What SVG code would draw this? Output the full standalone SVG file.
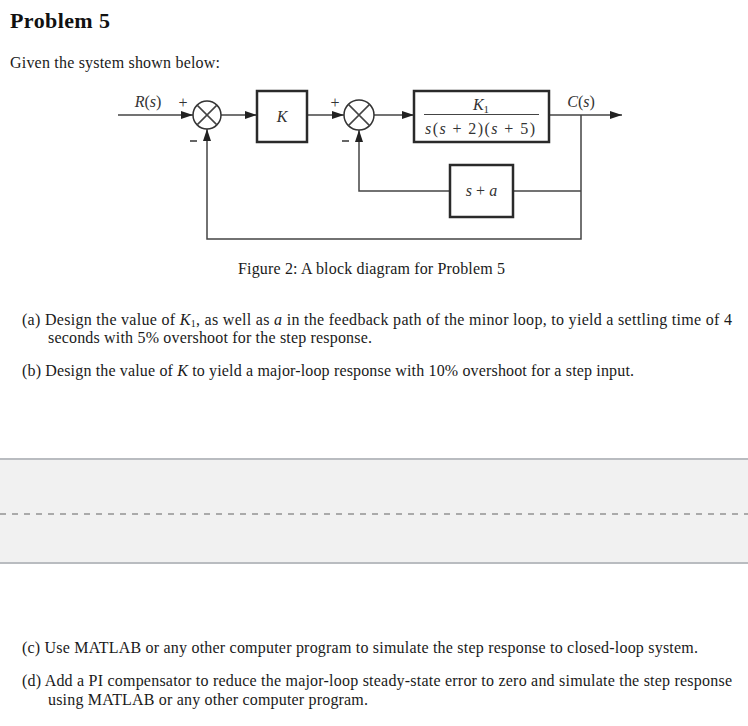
<svg xmlns="http://www.w3.org/2000/svg" width="748" height="726" viewBox="0 0 748 726">
<style>
.t{font-family:"Liberation Serif","Times New Roman",serif;font-size:16px;fill:#1a1a1a}
.d{font-family:"Liberation Serif","Times New Roman",serif;font-size:16px;fill:#333}
.i{font-style:italic}
.box{fill:#fff;stroke:#2a2a2a;stroke-width:2.5}
.sj{fill:#fff;stroke:#333;stroke-width:1.5}
.w{fill:none;stroke:#444;stroke-width:1.5}
.sg{stroke:#333;stroke-width:1.5}
</style>
<defs>
<marker id="ah" markerUnits="userSpaceOnUse" markerWidth="12" markerHeight="8" refX="12" refY="4" orient="auto">
<path d="M0,0 L12,4 L0,8 Z" fill="#222"/>
</marker>
</defs>
<rect width="748" height="726" fill="#fff"/>
<text x="10" y="28" style="font-family:'Liberation Serif',serif;font-size:22px;font-weight:bold;fill:#111" textLength="100">Problem 5</text>
<text class="t" x="10" y="68" textLength="210">Given the system shown below:</text>

<g id="connectors">
<line class="w" x1="118" y1="115" x2="193" y2="115" marker-end="url(#ah)"/>
<line class="w" x1="221" y1="115" x2="257" y2="115" marker-end="url(#ah)"/>
<line class="w" x1="307" y1="115" x2="344" y2="115" marker-end="url(#ah)"/>
<line class="w" x1="374" y1="115" x2="414" y2="115" marker-end="url(#ah)"/>
<line class="w" x1="549" y1="115" x2="622" y2="115" marker-end="url(#ah)"/>
<path class="w" d="M581,115 V239 H207 V129" marker-end="url(#ah)"/>
<path class="w" d="M450,191 H359 V130" marker-end="url(#ah)"/>
<path class="w" d="M513,191 H581"/>
</g>

<g id="sum1">
<circle class="sj" cx="207" cy="115" r="14"/>
<path class="w" d="M197.1,105.1 L216.9,124.9 M216.9,105.1 L197.1,124.9"/>
</g>
<g id="kblock">
<rect class="box" x="257" y="91" width="50" height="51"/>
<text class="d i" x="282" y="122" text-anchor="middle" font-size="17">K</text>
</g>
<g id="sum2">
<circle class="sj" cx="359" cy="115" r="15"/>
<path class="w" d="M348.4,104.4 L369.6,125.6 M369.6,104.4 L348.4,125.6"/>
</g>
<g id="gblock">
<rect class="box" x="414" y="91" width="135" height="51"/>
<line x1="424" y1="114.5" x2="539" y2="114.5" stroke="#444" stroke-width="1.2"/>
<text class="d" x="481" y="110" text-anchor="middle" font-size="17"><tspan class="i">K</tspan><tspan font-size="11" dy="3">1</tspan></text>
<text class="d" x="480" y="134" text-anchor="middle" font-size="17" textLength="110"><tspan class="i">s</tspan>(<tspan class="i">s</tspan> + 2)(<tspan class="i">s</tspan> + 5)</text>
</g>
<g id="hblock">
<rect class="box" x="450" y="165" width="63" height="52"/>
<text class="d" x="481.5" y="196" text-anchor="middle" font-size="17"><tspan class="i">s</tspan> + <tspan class="i">a</tspan></text>
</g>

<text class="d" x="148" y="107" text-anchor="middle" font-size="17"><tspan class="i">R</tspan>(<tspan class="i">s</tspan>)</text>
<text class="d" x="581" y="107" text-anchor="middle" font-size="17"><tspan class="i">C</tspan>(<tspan class="i">s</tspan>)</text>
<text class="d" x="183" y="108" text-anchor="middle" font-size="19">+</text>
<text class="d" x="335" y="108" text-anchor="middle" font-size="19">+</text>
<line class="sg" x1="190" y1="141" x2="197" y2="141"/>
<line class="sg" x1="342" y1="141" x2="349" y2="141"/>

<text class="t" x="238" y="274" textLength="267">Figure 2: A block diagram for Problem 5</text>

<text class="t" x="22" y="325" textLength="710">(a) Design the value of <tspan class="i">K</tspan><tspan font-size="10" dy="2">1</tspan><tspan dy="-2">, as well as </tspan><tspan class="i">a</tspan> in the feedback path of the minor loop, to yield a settling time of 4</text>
<text class="t" x="48" y="343" textLength="324">seconds with 5% overshoot for the step response.</text>
<text class="t" x="22" y="376" textLength="612">(b) Design the value of <tspan class="i">K</tspan> to yield a major-loop response with 10% overshoot for a step input.</text>

<rect x="0" y="459" width="748" height="104" fill="#f1f1f1"/>
<line x1="0" y1="459" x2="748" y2="459" stroke="#b9bcc0" stroke-width="2"/>
<line x1="0" y1="563" x2="748" y2="563" stroke="#b9bcc0" stroke-width="2"/>
<line x1="0" y1="514" x2="748" y2="514" stroke="#aaa" stroke-width="2" stroke-dasharray="6,6"/>

<text class="t" x="22" y="653" textLength="676">(c) Use MATLAB or any other computer program to simulate the step response to closed-loop system.</text>
<text class="t" x="22" y="686" textLength="710">(d) Add a PI compensator to reduce the major-loop steady-state error to zero and simulate the step response</text>
<text class="t" x="48" y="705" textLength="320">using MATLAB or any other computer program.</text>
</svg>
